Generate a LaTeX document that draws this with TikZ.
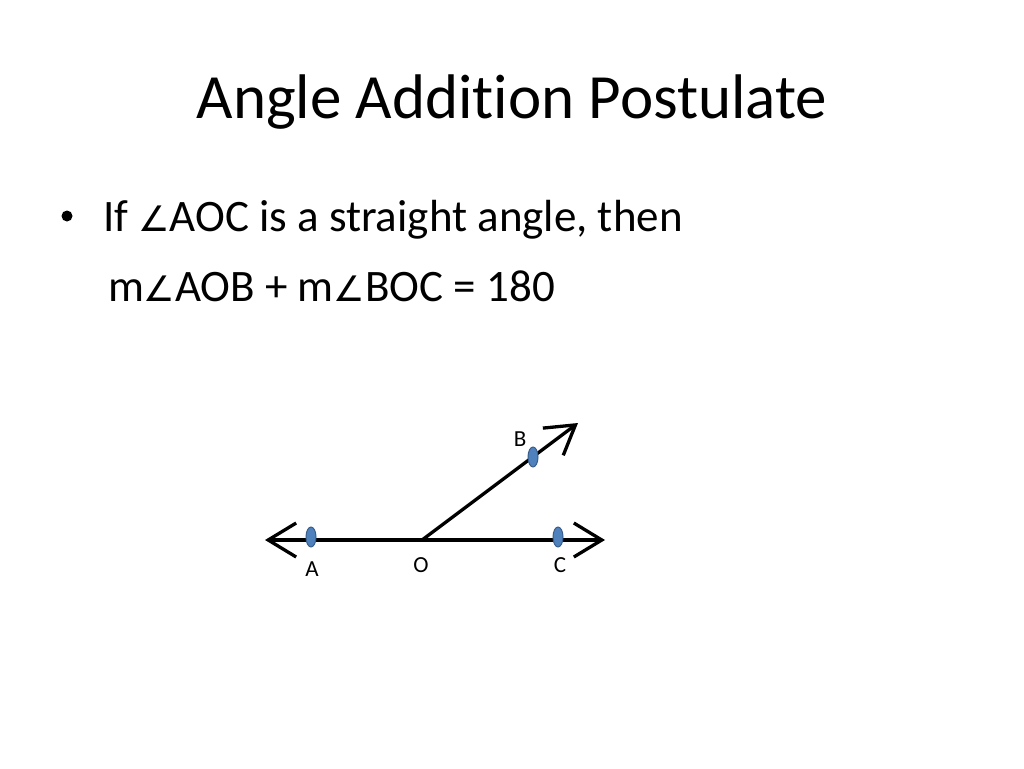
\documentclass[tikz,border=0pt]{standalone}
\usepackage{fontspec}
\setmainfont{Carlito}[Ligatures=NoCommon]
\newfontfamily\anglefont{DejaVu Sans}
\usetikzlibrary{arrows.meta,positioning,shapes.geometric}
\definecolor{dotblue}{HTML}{4F81BD}
\definecolor{dotedge}{HTML}{385D8A}
\newcommand{\ang}{{\anglefont\scalebox{0.78}{∠}}}

\begin{document}
\begin{tikzpicture}[x=1pt, y=-1pt,
    every node/.style={inner sep=0pt, outer sep=0pt},
    dot/.style={ellipse, minimum width=10pt, minimum height=20pt, fill=dotblue, draw=dotedge, line width=1pt},
    pointlabel/.style={anchor=base, font=\fontsize{23}{27}\selectfont},
    bodytext/.style={anchor=base west, font=\fontsize{45}{54}\selectfont},
    ray/.style={line width=3.3pt, -{Straight Barb[length=28pt, width=34pt, line width=3.3pt]}}
]
    \useasboundingbox[fill=white] (0,0) rectangle (1024,768);

    \node (title) at (512,118) [anchor=base, font=\fontsize{63}{72}\selectfont]
    {
        Angle Addition Postulate
    };

    %statement

    \node (bullet) at (67,216) [circle, fill=black, minimum size=11pt]
    {};
    \node (line_one) at (103,231) [bodytext]
    {
        If \ang AOC is a straight angle, then
    };
    \node (line_two) at (108,301) [bodytext]
    {
        m\ang AOB + m\ang BOC = 180
    };

    %figure

    \coordinate (left_end) at (265,540);
    \coordinate (right_end) at (605,540);
    \coordinate (ray_end) at (578,423);
    \coordinate (vertex_o) at (422,540);

    \draw[ray] (vertex_o) to (left_end);
    \draw[ray] (vertex_o) to (right_end);
    \draw[ray] (vertex_o) to (ray_end);

    \node (point_a) [dot] at (311,537) {};
    \node (point_c) [dot] at (558,537) {};
    \node (point_b) [dot] at (533,457) {};

    \node (label_a) [pointlabel] at (312,576) {A};
    \node (label_o) [pointlabel] at (421,572) {O};
    \node (label_c) [pointlabel] at (560,572) {C};
    \node (label_b) [pointlabel] at (520,446) {B};

\end{tikzpicture}
\end{document}
